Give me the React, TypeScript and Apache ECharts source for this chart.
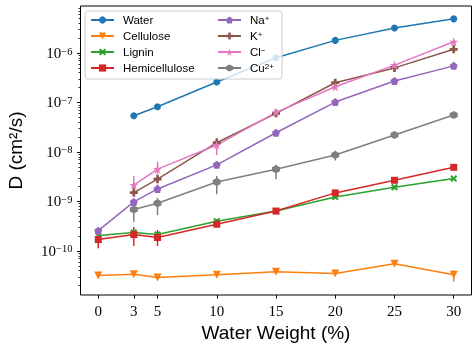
import React, { useEffect, useRef } from 'react';
import * as echarts from 'echarts';

// ---- data ----
const weights = [0, 3, 5, 10, 15, 20, 25, 30];
const weightsFrom3 = [3, 5, 10, 15, 20, 25, 30];
const xTickValues = [0, 3, 5, 10, 15, 20, 25, 30];
const yTickValues = [1e-10, 1e-9, 1e-8, 1e-7, 1e-6];

const water = [5.4e-8, 8.2e-8, 2.6e-7, 8.0e-7, 1.8e-6, 3.2e-6, 4.9e-6];
const cellulose = [3.2e-11, 3.4e-11, 2.9e-11, 3.3e-11, 3.8e-11, 3.5e-11, 5.5e-11, 3.3e-11];
const lignin = [2.06e-10, 2.36e-10, 2.15e-10, 4.0e-10, 6.4e-10, 1.23e-9, 1.94e-9, 2.9e-9];
const hemicellulose = [1.7e-10, 2.14e-10, 1.87e-10, 3.47e-10, 6.4e-10, 1.49e-9, 2.68e-9, 4.9e-9];
const sodium = [2.57e-10, 9.8e-10, 1.79e-9, 5.5e-9, 2.45e-8, 1.02e-7, 2.72e-7, 5.5e-7];
const potassium = [1.51e-9, 2.82e-9, 1.54e-8, 6.05e-8, 2.51e-7, 5.0e-7, 1.19e-6];
const chloride = [2.15e-9, 4.5e-9, 1.38e-8, 6.3e-8, 2.08e-7, 5.7e-7, 1.69e-6];
const copper = [6.9e-10, 9.2e-10, 2.48e-9, 4.5e-9, 8.7e-9, 2.2e-8, 5.6e-8];

// error bars: [weight, lower, upper]
const celluloseErr = [[30, 2.4e-11, 4.1e-11]];
const ligninErr = [[3, 2.05e-10, 2.7e-10], [10, 3.6e-10, 4.4e-10]];
const hemicelluloseErr = [[0, 1.13e-10, 2.1e-10], [3, 1.26e-10, 3.05e-10], [5, 1.26e-10, 2.65e-10], [10, 3.0e-10, 4.0e-10]];
const sodiumErr = [[5, 1.5e-9, 2.2e-9]];
const chlorideErr = [[3, 1.23e-9, 3.27e-9], [5, 3.17e-9, 6.4e-9], [10, 8.7e-9, 1.92e-8]];
const copperErr = [[3, 3.9e-10, 8.1e-10], [5, 5.3e-10, 1.18e-9], [10, 1.4e-9, 3.27e-9], [15, 2.8e-9, 5.5e-9], [20, 6.7e-9, 1.06e-8]];

const SYM = {
  triDown: 'path://M0,0 L10,0 L5,9 Z',
  xFilled: 'path://M2,0 L5,3 L8,0 L10,2 L7,5 L10,8 L8,10 L5,7 L2,10 L0,8 L3,5 L0,2 Z',
  pentagon: 'path://M5,0 L10,3.8 L8.1,10 L1.9,10 L0,3.8 Z',
  plus: 'path://M3.3,0 H6.7 V3.3 H10 V6.7 H6.7 V10 H3.3 V6.7 H0 V3.3 H3.3 Z',
  star: 'path://M5,0 L6.2,3.6 L10,3.6 L6.9,5.9 L8.1,9.5 L5,7.3 L1.9,9.5 L3.1,5.9 L0,3.6 L3.8,3.6 Z',
  hexagon: 'path://M5,0 L9.33,2.5 L9.33,7.5 L5,10 L0.67,7.5 L0.67,2.5 Z',
};

const defs = [
  { name: 'Water', xs: weightsFrom3, ys: water, color: '#1f77b4', symbol: 'circle', size: 7, err: [] as number[][] },
  { name: 'Cellulose', xs: weights, ys: cellulose, color: '#ff7f0e', symbol: SYM.triDown, size: 8, err: celluloseErr },
  { name: 'Lignin', xs: weights, ys: lignin, color: '#2ca02c', symbol: SYM.xFilled, size: 7, err: ligninErr },
  { name: 'Hemicellulose', xs: weights, ys: hemicellulose, color: '#d62728', symbol: 'rect', size: 7, err: hemicelluloseErr },
  { name: 'Na+', xs: weights, ys: sodium, color: '#9467bd', symbol: SYM.pentagon, size: 8, err: sodiumErr },
  { name: 'K+', xs: weightsFrom3, ys: potassium, color: '#8c564b', symbol: SYM.plus, size: 8, err: [] as number[][] },
  { name: 'Cl-', xs: weightsFrom3, ys: chloride, color: '#e377c2', symbol: SYM.star, size: 9, err: chlorideErr },
  { name: 'Cu2+', xs: weightsFrom3, ys: copper, color: '#7f7f7f', symbol: SYM.hexagon, size: 8, err: copperErr },
];

const legendRich: Record<string, string> = {
  'Na+': '{n|Na}{s|+}',
  'K+': '{n|K}{s|+}',
  'Cl-': '{n|Cl}{s|\u2212}',
  'Cu2+': '{n|Cu}{s|2+}',
};

const Y_MIN = Math.pow(10, -10.89);
const Y_MAX = Math.pow(10, -5.05);

function minorTicks(): number[] {
  const out: number[] = [];
  for (let e = -12; e <= -5; e++) {
    for (let k = 2; k <= 9; k++) {
      const v = k * Math.pow(10, e);
      if (v >= Y_MIN && v <= Y_MAX) out.push(v);
    }
  }
  return out;
}

export default function App() {
  const ref = useRef<HTMLDivElement>(null);
  useEffect(() => {
    if (!ref.current) return;
    const chart = echarts.init(ref.current, null, { renderer: 'svg' });
    const series: any[] = [];
    defs.forEach((d) => {
      if (d.err.length) {
        series.push({
          name: d.name + ' err',
          type: 'custom',
          coordinateSystem: 'cartesian2d',
          xAxisIndex: 0,
          yAxisIndex: 0,
          data: d.err,
          encode: { x: 0, y: [1, 2] },
          z: 2,
          renderItem: (_p: any, api: any) => {
            const a = api.coord([api.value(0), api.value(1)]);
            const b = api.coord([api.value(0), api.value(2)]);
            return {
              type: 'line',
              shape: { x1: a[0], y1: a[1], x2: b[0], y2: b[1] },
              style: { stroke: d.color, lineWidth: 1.5 },
            };
          },
        });
      }
      series.push({
        name: d.name,
        type: 'line',
        xAxisIndex: 0,
        yAxisIndex: 0,
        data: d.xs.map((x, i) => [x, d.ys[i]]),
        symbol: d.symbol,
        symbolSize: d.size,
        showSymbol: true,
        lineStyle: { color: d.color, width: 1.5 },
        itemStyle: { color: d.color, borderWidth: 0 },
        z: 2,
      });
    });

    const legendText = {
      fontFamily: 'Liberation Sans',
      fontSize: 11.5,
      color: '#000',
      padding: [0, 0, 0, 4],
      rich: {
        n: { fontFamily: 'Liberation Sans', fontSize: 11.5, color: '#000', verticalAlign: 'bottom', lineHeight: 12 },
        s: { fontFamily: 'Liberation Sans', fontSize: 8, color: '#000', verticalAlign: 'top', lineHeight: 8 },
      },
    };
    const legendCommon = {
      orient: 'vertical',
      top: 14,
      itemWidth: 23,
      itemHeight: 9,
      itemGap: 4,
      padding: 0,
      z: 5,
      selectedMode: false,
      textStyle: legendText,
      formatter: (n: string) => legendRich[n] || n,
    };

    chart.setOption({
      animation: false,
      grid: {
        left: 80.5,
        right: 2.5,
        top: 6,
        bottom: 54,
        show: true,
        borderColor: '#000',
        borderWidth: 1,
        outerBoundsMode: 'none',
      },
      legend: [
        { ...legendCommon, left: 90, data: ['Water', 'Cellulose', 'Lignin', 'Hemicellulose'] },
        { ...legendCommon, left: 217, data: ['Na+', 'K+', 'Cl-', 'Cu2+'] },
      ],
      graphic: [
        {
          type: 'rect',
          z: 4,
          shape: { x: 85, y: 11, width: 197, height: 68, r: 3 },
          style: { fill: 'rgba(255,255,255,0.8)', stroke: '#cccccc', lineWidth: 1 },
        },
      ],
      xAxis: {
        type: 'value',
        min: -1.5,
        max: 31.5,
        name: 'Water Weight (%)',
        nameLocation: 'middle',
        nameGap: 25,
        nameTextStyle: { fontFamily: 'Liberation Sans', fontSize: 19, color: '#000' },
        axisLine: { show: false, onZero: false },
        splitLine: { show: false },
        axisTick: { show: true, inside: false, length: 3.5, customValues: xTickValues, lineStyle: { color: '#000', width: 1 } },
        axisLabel: {
          customValues: xTickValues,
          margin: 8,
          color: '#000',
          fontFamily: 'Liberation Serif',
          fontSize: 15,
        },
      },
      yAxis: [
        {
          type: 'log',
          min: Y_MIN,
          max: Y_MAX,
          name: 'D (cm\u00b2/s)',
          nameLocation: 'middle',
          nameGap: 56,
          nameTextStyle: { fontFamily: 'Liberation Sans', fontSize: 19, color: '#000' },
          axisLine: { show: false, onZero: false },
          splitLine: { show: false },
          axisTick: { show: true, inside: false, length: 3.5, customValues: yTickValues, lineStyle: { color: '#000', width: 1 } },
          axisLabel: {
            customValues: yTickValues,
            margin: 8,
            formatter: (v: number) => {
              const e = Math.round(Math.log10(v));
              return `{b|10}{s|\u2212${Math.abs(e)}}`;
            },
            rich: {
              b: { fontFamily: 'Liberation Serif', fontSize: 15, color: '#000', verticalAlign: 'bottom', lineHeight: 15 },
              s: { fontFamily: 'Liberation Serif', fontSize: 10.5, color: '#000', verticalAlign: 'top', lineHeight: 11 },
            },
          },
        },
        {
          type: 'log',
          min: Y_MIN,
          max: Y_MAX,
          position: 'left',
          axisLine: { show: false, onZero: false },
          splitLine: { show: false },
          axisLabel: { show: false },
          axisTick: { show: true, inside: false, length: 2, customValues: minorTicks(), lineStyle: { color: '#000', width: 0.8 } },
        },
      ],
      series,
    });
    return () => chart.dispose();
  }, []);
  return <div ref={ref} style={{ position: 'fixed', left: 0, top: 0, width: 474, height: 349 }} />;
}
